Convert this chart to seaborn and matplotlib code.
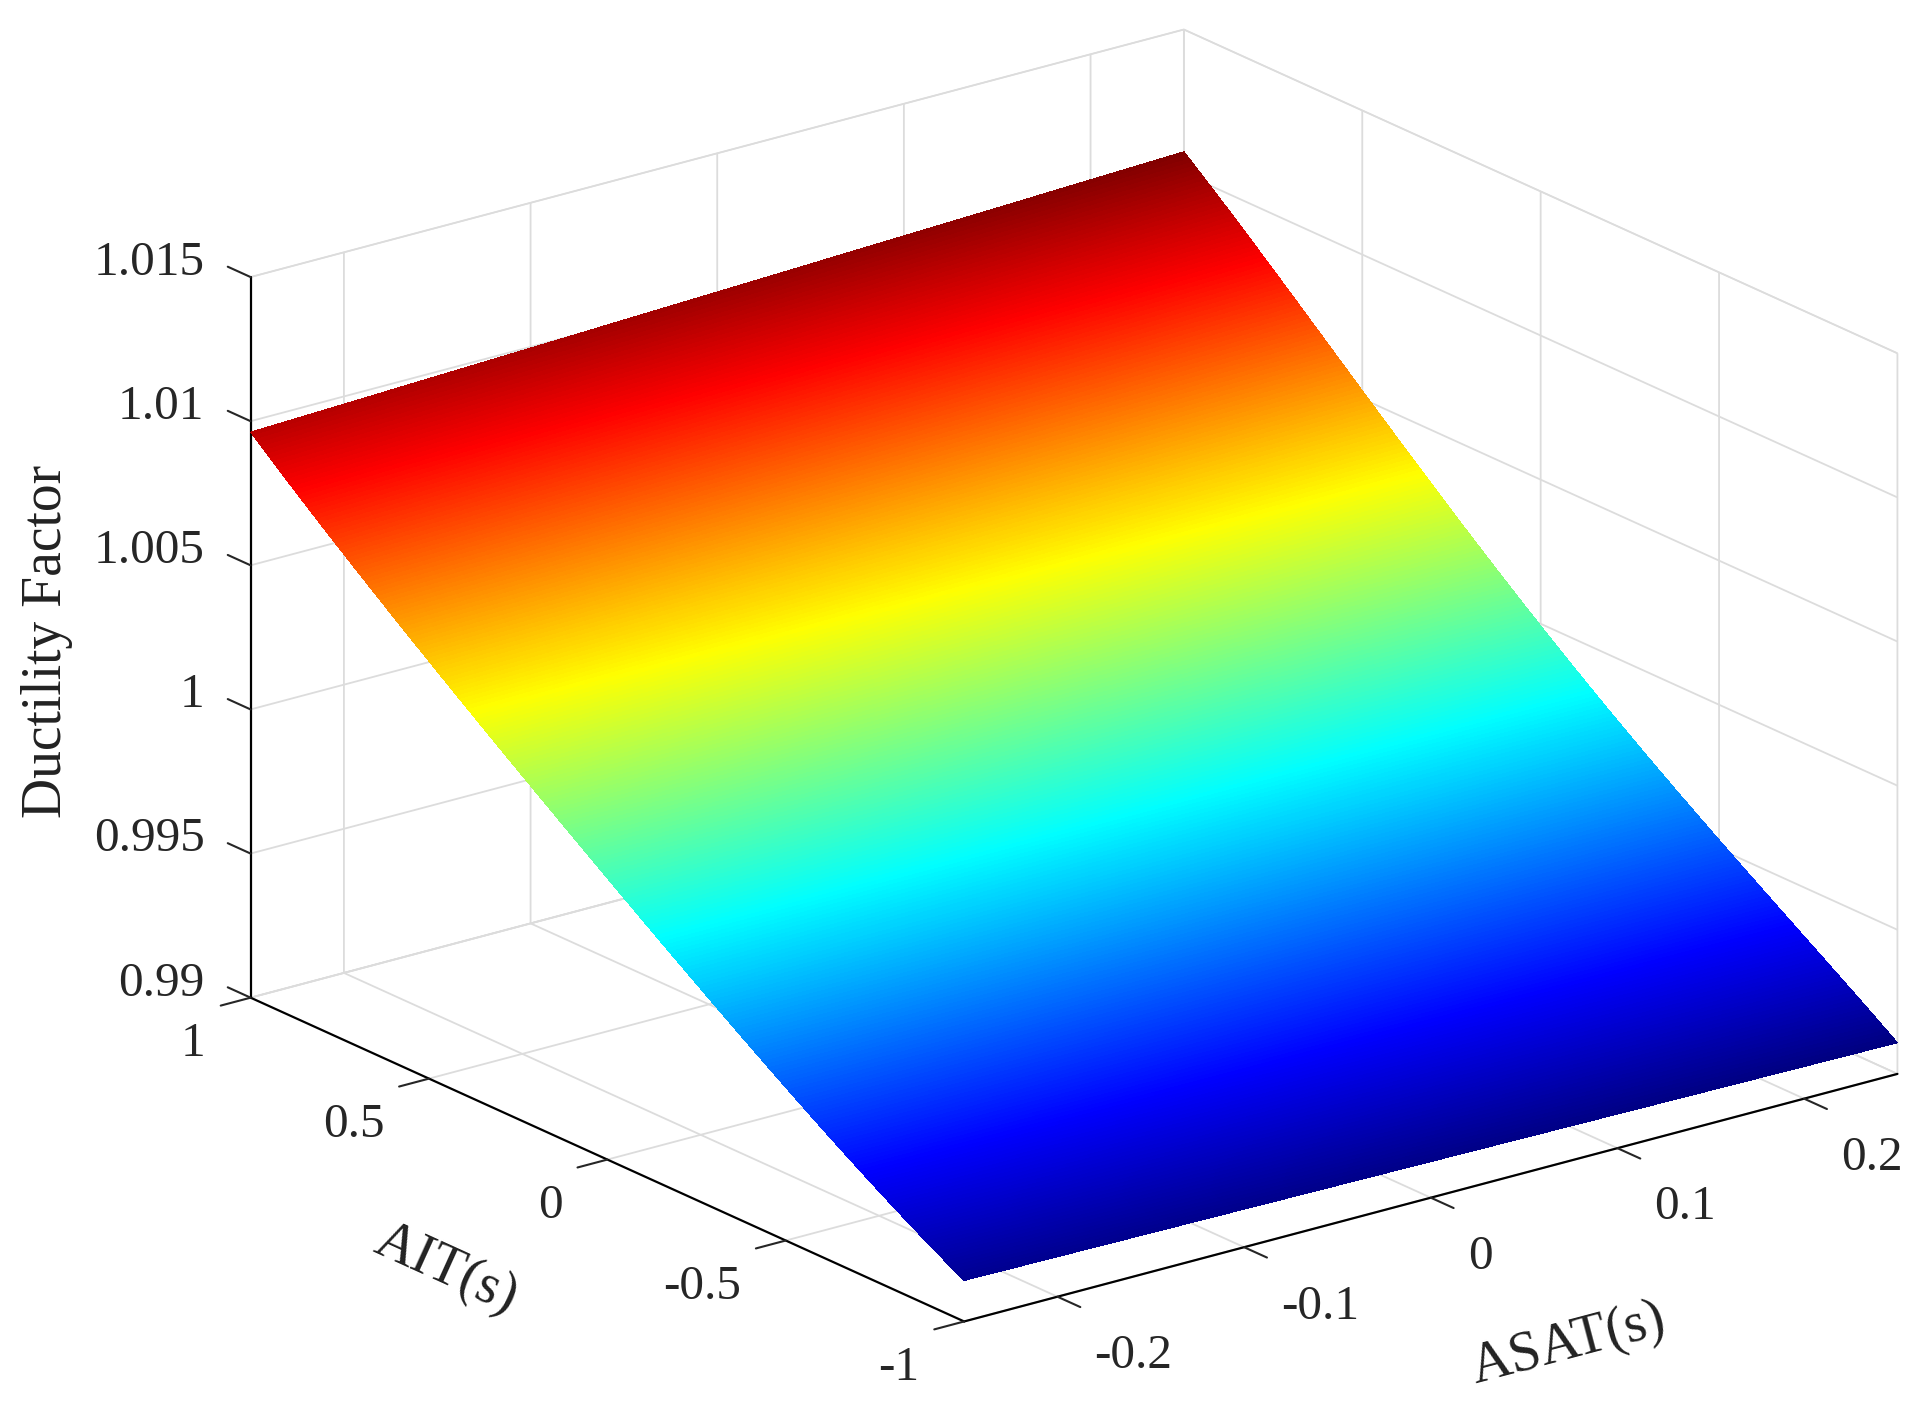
import numpy as np
import matplotlib
matplotlib.use("Agg")
import matplotlib.pyplot as plt
from matplotlib.colors import LinearSegmentedColormap
import seaborn as sns

# === DATA ===
asat_nodes = [-0.25, 0.0, 0.25]
ait_nodes = [-1.0, -0.5, 0.0, 0.5, 1.0]
# one list per ait node, values follow asat_nodes
ductility_ait_m10 = [0.99142, 0.99125, 0.99108]
ductility_ait_m05 = [0.99531, 0.99531, 0.99531]
ductility_ait_00 = [0.99976, 0.99985, 0.99993]
ductility_ait_05 = [1.00448, 1.00488, 1.00528]
ductility_ait_10 = [1.00962, 1.01019, 1.01076]

asat_ticks = [-0.2, -0.1, 0, 0.1, 0.2]
asat_labels = ["-0.2", "-0.1", "0", "0.1", "0.2"]
ait_ticks = [-1, -0.5, 0, 0.5, 1]
ait_labels = ["-1", "-0.5", "0", "0.5", "1"]
duct_ticks = [0.99, 0.995, 1.0, 1.005, 1.01, 1.015]
duct_labels = ["0.99", "0.995", "1", "1.005", "1.01", "1.015"]

# === CONFIG ===
W, H = 1932, 1417
BOX = 1000
GRID = "#dcdcdc"
FONT = "Liberation Serif"

# matlab's jet, mpl's one puts red and cyan a bit elsewhere
matlab_jet = LinearSegmentedColormap.from_list("matlab_jet", [
    (0.0, (0, 0, 0.5)), (0.125, (0, 0, 1)), (0.375, (0, 1, 1)),
    (0.625, (1, 1, 0)), (0.875, (1, 0, 0)), (1.0, (0.5, 0, 0)),
], N=1024)

sns.set_theme(style="white", rc={
    "grid.color": GRID,
    "grid.linewidth": 1.3,
    "axes.edgecolor": "black",
    "axes.linewidth": 1.5,
    "xtick.major.width": 1.5,
    "ytick.major.width": 1.5,
})
plt.rcParams["font.family"] = [FONT, "DejaVu Serif"]
plt.rcParams["text.color"] = "#222222"

z_table = np.array([ductility_ait_m10, ductility_ait_m05, ductility_ait_00,
                    ductility_ait_05, ductility_ait_10])

# fine mesh is only for smooth colour, same idea as matlab's shading interp
# it goes through the read values, the curve just hides the kinks between them
fine_x = np.linspace(asat_nodes[0], asat_nodes[-1], 260)
fine_y = np.linspace(ait_nodes[0], ait_nodes[-1], 260)
by_row = np.array([np.interp(fine_x, asat_nodes, row) for row in z_table])
z_fine = np.array([np.polyval(np.polyfit(ait_nodes, col, 4), fine_y) for col in by_row.T]).T
X, Y = np.meshgrid(fine_x, fine_y)

fig = plt.figure(figsize=(W / 100, H / 100), dpi=100)
ax = fig.add_axes([560.5 / W, 228 / H, BOX / W, BOX / H], projection="3d")
ax.set_proj_type("ortho")
ax.view_init(elev=20.3, azim=-127.4)
ax.set_box_aspect((1, 1, 0.654), zoom=1.777)

surf = ax.plot_surface(X, Y, z_fine, cmap=matlab_jet, vmin=z_table.min(), vmax=z_table.max(),
                       rstride=1, cstride=1, linewidth=0, antialiased=False, shade=False)
surf.set_clip_on(False)

ax.set_xlim(-0.25, 0.25)
ax.set_ylim(-1, 1)
ax.set_zlim(0.99, 1.015)

ax.set_xticks(asat_ticks, asat_labels)
ax.set_yticks(ait_ticks, ait_labels)
ax.set_zticks(duct_ticks, duct_labels)
ax.tick_params(axis="x", labelsize=35.5, pad=11.5)
ax.tick_params(axis="y", labelsize=35.5, pad=10)
ax.tick_params(axis="z", labelsize=35.5, pad=2.5)
plt.setp(ax.get_xticklabels(), ha="left", va="center_baseline")
plt.setp(ax.get_yticklabels(), ha="right", va="center")
plt.setp(ax.get_zticklabels(), ha="right", va="baseline")

for axis in (ax.xaxis, ax.yaxis):
    axis._axinfo["tick"]["inward_factor"] = 0.4
    axis._axinfo["tick"]["outward_factor"] = 0
for axis in (ax.xaxis, ax.yaxis, ax.zaxis):
    axis.set_pane_color((1, 1, 1, 1))
    axis.pane.set_edgecolor(GRID)
    axis.line.set_color("black")
    axis.line.set_linewidth(1.6)
# z ticks point along the AIT direction in the original
ax.zaxis._get_tickdir = lambda pos: 1
ax.zaxis._axinfo["tick"]["inward_factor"] = 0
ax.zaxis._axinfo["tick"]["outward_factor"] = 0.4
ax.grid(True)

# axis titles sit by hand, the 3d label offset can't reach them
fig.text(1568 / W, 1 - 1344 / H, "ASAT(s)", fontsize=40.5, rotation=14.8,
         ha="center", va="center", rotation_mode="anchor")
fig.text(446 / W, 1 - 1270 / H, "AIT(s)", fontsize=40, rotation=-24.4,
         ha="center", va="center", rotation_mode="anchor")
fig.text(47 / W, 1 - 641 / H, "Ductility Factor", fontsize=40, rotation=90,
         ha="center", va="center", rotation_mode="anchor")

fig.savefig("out.png", dpi=100, facecolor="white")
